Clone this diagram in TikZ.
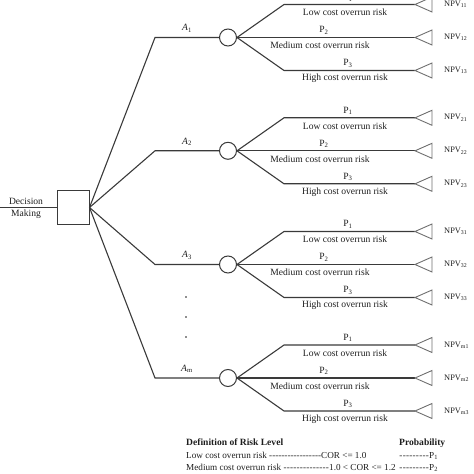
\documentclass[tikz,border=0pt]{standalone}
\usepackage{fontspec}
\setmainfont{Liberation Serif}
\definecolor{lc}{HTML}{3A3A3A}
\definecolor{tc}{HTML}{1E1E1E}
\definecolor{trc}{HTML}{6E6E6E}
\newcommand{\dfill}{\xleaders\hbox{-}\hfill}
\begin{document}
\begin{tikzpicture}[x=1bp,y=-1bp,
  ln/.style={draw=lc, line width=1.1bp},
  tri/.style={draw=trc, line width=0.9bp},
  dbox/.style={draw=lc, line width=1bp, minimum width=32bp, minimum height=33bp, inner sep=0pt},
  circ/.style={circle, draw=lc, line width=1bp, minimum size=17bp, inner sep=0pt},
  txt/.style={text=tc, inner sep=0pt, font=\fontsize{9.6}{12}\selectfont},
  npv/.style={text=tc, inner sep=0pt, anchor=west, font=\fontsize{8.4}{9}\selectfont},
  lg/.style={text=tc, inner sep=0pt, anchor=base west, font=\fontsize{9.2}{11}\selectfont},
  dotn/.style={circle, fill=tc, inner sep=0pt, minimum size=1.6bp}
]
\useasboundingbox (0,0) rectangle (474,474);
\clip (0,0) rectangle (474,474);

% decision node
\node[dbox] (dm) at (73,207.5) {};
\coordinate (lin) at (0,207.5);
\draw[ln] (lin) -- (dm.west);
\node[txt, align=center] (dmt) at (26,208.5) {Decision\\Making};

% alternatives
\foreach \g/\y/\sub in {1/37.5/1, 2/150.8/2, 3/264.5/3, m/378/m}{
  \node[circ] (c\g) at (228,\y) {};
  \coordinate (a\g) at (155,\y);
  \draw[ln] (dm.east) -- (a\g) -- (c\g.west);
  \node[txt] (l\g) at (187,\y-9) {\textit{A}\textsubscript{\ifx m\sub\textit{m}\else\sub\fi}};
  \foreach \k/\dy/\px/\rx/\risk in {1/-33/348/345/Low, 2/0/324/320/Medium, 3/33/348/345/High}{
    \coordinate (b\g\k) at (284,\y+\dy);
    \coordinate (t\g\k) at (415,\y+\dy);
    \draw[ln] (c\g.east) -- (b\g\k) -- (t\g\k);
    \draw[tri] (t\g\k) -- ++(17,-7.5) -- ++(0,15) -- cycle;
    \node[txt] (p\g\k) at (\px,\y+\dy-7) {P\textsubscript{\k}};
    \node[txt] (r\g\k) at (\rx,\y+\dy+8) {\risk{} cost overrun risk};
    \node[npv] (n\g\k) at (444,\y+\dy) {NPV\textsubscript{\g\k}};
  }
}

% vertical dots
\node[dotn] (d1) at (186,297) {};
\node[dotn] (d2) at (186,317) {};
\node[dotn] (d3) at (186,337) {};

% legend
\node[lg, font=\fontsize{9.6}{11}\selectfont] (lh) at (186,445) {\textbf{Definition of Risk Level}};
\node[lg, font=\fontsize{9.6}{11}\selectfont] (ph) at (399,445) {\textbf{Probability}};
\node[lg] (lr1) at (186,458) {\makebox[135bp][l]{Low cost overrun risk \dfill}COR <= 1.0};
\node[lg] (lr2) at (186,470) {\makebox[143bp][l]{Medium cost overrun risk \dfill}1.0 < COR <= 1.2};
\node[lg] (lr3) at (186,481) {\makebox[135bp][l]{High cost overrun risk \dfill}COR > 1.2};
\node[lg] (pr1) at (399,458) {\makebox[30bp][l]{\dfill}P\textsubscript{1}};
\node[lg] (pr2) at (399,470) {\makebox[30bp][l]{\dfill}P\textsubscript{2}};
\node[lg] (pr3) at (399,481) {\makebox[30bp][l]{\dfill}P\textsubscript{3}};
\end{tikzpicture}
\end{document}
